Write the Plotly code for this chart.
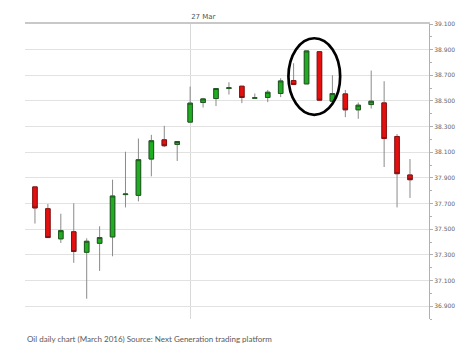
import plotly.graph_objects as go

# candle index (trading sessions), OHLC
idx = list(range(30))
opens = [37.83, 37.66, 37.425, 37.48, 37.32, 37.39, 37.44, 37.77, 37.764, 38.047,
         38.197, 38.161, 38.335, 38.488, 38.519, 38.598, 38.615, 38.522, 38.527, 38.558,
         38.659, 38.633, 38.884, 38.498, 38.555, 38.431, 38.472, 38.485, 38.223, 37.923]
highs = [37.83, 37.697, 37.621, 37.702, 37.429, 37.523, 37.886, 38.104, 38.207, 38.236,
         38.306, 38.184, 38.612, 38.524, 38.60, 38.646, 38.615, 38.558, 38.586, 38.677,
         38.794, 38.89, 38.884, 38.70, 38.586, 38.488, 38.737, 38.654, 38.242, 38.047]
lows = [37.544, 37.435, 37.393, 37.238, 36.958, 37.175, 37.289, 37.67, 37.717, 37.912,
        38.14, 38.032, 38.335, 38.449, 38.46, 38.55, 38.483, 38.518, 38.491, 38.530,
        38.628, 38.633, 38.506, 38.498, 38.374, 38.361, 38.441, 37.985, 37.67, 37.744]
closes = [37.666, 37.435, 37.489, 37.326, 37.406, 37.435, 37.759, 37.774, 38.042, 38.19,
          38.151, 38.184, 38.483, 38.516, 38.597, 38.602, 38.527, 38.524, 38.568, 38.656,
          38.628, 38.89, 38.506, 38.558, 38.431, 38.467, 38.498, 38.207, 37.933, 37.886]

tick_vals = [12]
tick_text = ["27 Mar"]
y_ticks = [36.9, 37.1, 37.3, 37.5, 37.7, 37.9, 38.1, 38.3, 38.5, 38.7, 38.9, 39.1]
highlight = [21, 22]  # circled candles
caption = "Oil daily chart (March 2016) Source: Next Generation trading platform"

body_hi = [max(o, c) for o, c in zip(opens, closes)]
body_lo = [min(o, c) for o, c in zip(opens, closes)]

fig = go.Figure()
# wicks
fig.add_trace(go.Candlestick(
    x=idx, open=opens, high=highs, low=lows, close=closes,
    increasing=dict(line=dict(color="#8a8a8a", width=1), fillcolor="#8a8a8a"),
    decreasing=dict(line=dict(color="#8a8a8a", width=1), fillcolor="#8a8a8a"),
    showlegend=False, hoverinfo="skip"))
# bodies
fig.add_trace(go.Candlestick(
    x=idx, open=opens, high=body_hi, low=body_lo, close=closes,
    increasing=dict(line=dict(color="#1f5a1f", width=1), fillcolor="#1fae1f"),
    decreasing=dict(line=dict(color="#8a1010", width=1), fillcolor="#e60f0f"),
    showlegend=False))

# ellipse around the highlighted candles
x0 = highlight[0] - 1.4
x1 = highlight[1] + 1.6
fig.add_shape(type="circle", xref="x", yref="y",
              x0=x0, x1=x1, y0=38.392, y1=38.989,
              line=dict(color="black", width=2.7))

fig.add_annotation(text=caption, xref="paper", yref="paper", x=0, y=-0.045,
                   xanchor="left", yanchor="top", showarrow=False,
                   font=dict(family="Lato", size=8, color="#5a5a5a"))

fig.update_layout(
    width=474, height=348,
    margin=dict(l=25, r=45, t=24, b=29),
    paper_bgcolor="white", plot_bgcolor="white",
    boxgap=0.5,
    font=dict(family="DejaVu Sans", size=7, color="#555555"),
    xaxis=dict(range=[-0.77, 30.47], side="top", tickvals=tick_vals, ticktext=tick_text,
               showgrid=True, gridcolor="#d8d8d8", gridwidth=1,
               showline=True, linecolor="#c8c8c8", linewidth=2,
               ticks="", ticklabelposition="outside right",
               rangeslider=dict(visible=False), zeroline=False,
               tickfont=dict(size=7, color="#555555")),
    yaxis=dict(range=[36.8, 39.1], side="right", tickvals=y_ticks,
               tickformat=".3f", showgrid=True, gridcolor="#e2e2e2", gridwidth=1,
               showline=True, linecolor="#b0b0b0", linewidth=1,
               ticks="outside", ticklen=3, tickcolor="#b0b0b0",
               minor=dict(dtick=0.1, ticks="outside", ticklen=2, tickcolor="#b0b0b0", showgrid=False),
               zeroline=False, tickfont=dict(size=6, color="#666666")),
)

fig.write_html("out.html")
